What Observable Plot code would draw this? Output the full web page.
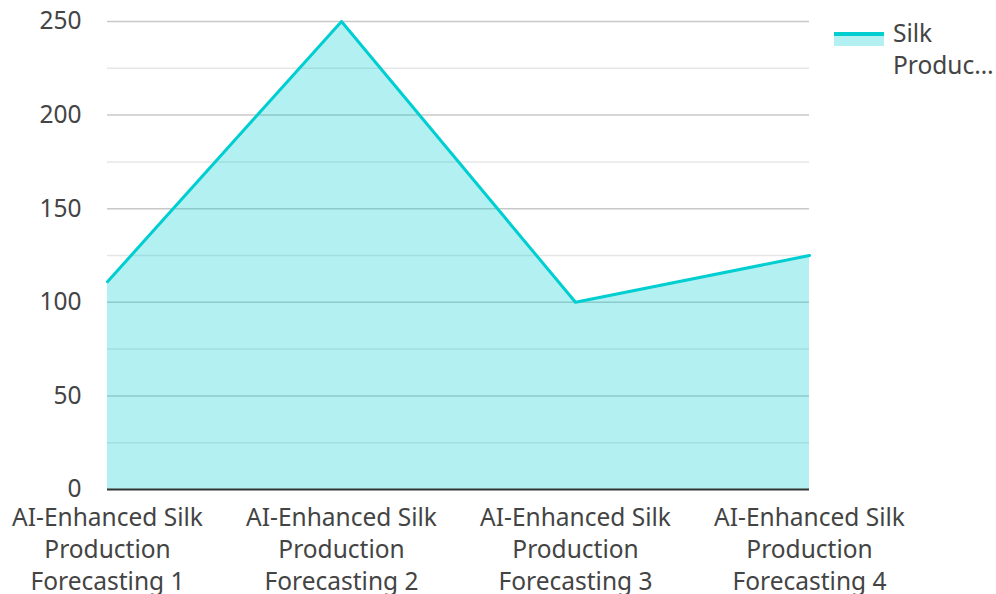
<!DOCTYPE html>
<html>
<head>
<meta charset="utf-8">
<script src="https://cdn.jsdelivr.net/npm/d3@7"></script>
<script src="https://cdn.jsdelivr.net/npm/@observablehq/plot@0.6"></script>
<style>
  html, body { margin: 0; padding: 0; background: #fff; }
  #wrap { position: relative; width: 996px; height: 594px; font-family: "Noto Sans", sans-serif; }
  #legend { position: absolute; left: 834px; top: 17px; display: flex; align-items: flex-start; color: #444; font-size: 24.5px; line-height: 32px; }
  #legend .sw { width: 50px; height: 14px; margin-top: 15px; margin-right: 9px; position: relative; }
  #legend .sw .fill { position: absolute; left: 0; top: 4px; width: 50px; height: 10px; background: rgba(0,206,209,0.3); }
  #legend .sw .ln { position: absolute; left: 0; top: 0; width: 50px; height: 4px; background: #00CED1; }
</style>
</head>
<body>
<div id="wrap"></div>
<script>
const categories = [
  "AI-Enhanced Silk Production Forecasting 1",
  "AI-Enhanced Silk Production Forecasting 2",
  "AI-Enhanced Silk Production Forecasting 3",
  "AI-Enhanced Silk Production Forecasting 4"
];
const values = [111, 250, 100, 125];
const seriesName = "Silk Production";
const majorTicks = [0, 50, 100, 150, 200, 250];
const minorTicks = [25, 75, 125, 175, 225];

const data = categories.map((c, i) => ({category: c, value: values[i]}));
const color = "#00CED1";

const wrapLabel = (s) => s.replace("Silk Production", "Silk\nProduction").replace("Production Forecasting", "Production\nForecasting");

const chart = Plot.plot({
  width: 996,
  height: 594,
  marginLeft: 107,
  marginRight: 187,
  marginTop: 21,
  marginBottom: 105,
  style: {fontFamily: "Noto Sans, sans-serif", fontSize: "24.5px", color: "#444", background: "#fff"},
  x: {type: "point", domain: categories, padding: 0},
  y: {domain: [0, 250]},
  marks: [
    Plot.ruleY(minorTicks, {stroke: "#e6e6e6", strokeWidth: 1.5}),
    Plot.ruleY(majorTicks.filter(d => d !== 0), {stroke: "#c8c8c8", strokeWidth: 1.5}),
    Plot.areaY(data, {x: "category", y: "value", fill: color, fillOpacity: 0.3, curve: "linear"}),
    Plot.lineY(data, {x: "category", y: "value", stroke: color, strokeWidth: 3, curve: "linear"}),
    Plot.ruleY([0], {stroke: "#333", strokeWidth: 2}),
    Plot.axisY({ticks: majorTicks, tickSize: 0, tickPadding: 26, fontSize: 24.5, fill: "#444", label: null}),
    Plot.axisX({tickSize: 0, tickPadding: 14, fontSize: 24.5, fill: "#444", label: null, lineHeight: 1.306, tickFormat: wrapLabel})
  ]
});

const wrap = document.getElementById("wrap");
wrap.appendChild(chart);
const legend = document.createElement("div");
legend.id = "legend";
legend.innerHTML = `<div class="sw"><div class="fill"></div><div class="ln"></div></div><div>Silk<br>Produc…</div>`;
wrap.appendChild(legend);
</script>
</body>
</html>
